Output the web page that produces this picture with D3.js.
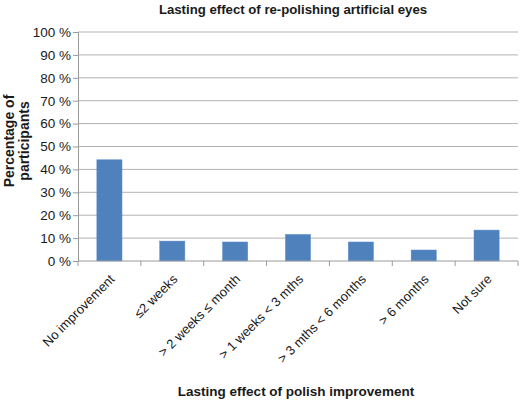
<!DOCTYPE html>
<html>
<head>
<meta charset="utf-8">
<script src="https://cdn.jsdelivr.net/npm/d3@7.9.0/dist/d3.min.js"></script>
<style>
  body { margin: 0; background: #fff; }
  text { font-family: "Liberation Sans", Arial, sans-serif; fill: #1a1a1a; }
</style>
</head>
<body>
<svg id="chart" width="520" height="400"></svg>
<script>
// values
const categories = ["No improvement", "\u22642 weeks", "> 2 weeks \u2264 month", "> 1 weeks < 3 mths",
                    "> 3 mths < 6 months", "> 6 months", "Not sure"];
const percents = [44.2, 8.7, 8.3, 11.6, 8.3, 4.8, 13.5];
const yTicks = [0, 10, 20, 30, 40, 50, 60, 70, 80, 90, 100];

const margin = { top: 32, right: 2, bottom: 139, left: 78 };
const width = 520, height = 400;

let svg = d3.select("#chart");

let x = d3.scaleBand()
    .domain(categories)
    .range([margin.left, width - margin.right]);

let y = d3.scaleLinear()
    .domain([0, 100])
    .range([height - margin.bottom, margin.top]);

// gridlines
svg.append("g")
    .selectAll("line")
    .data(yTicks.filter(d => d > 0))
    .enter()
    .append("line")
    .attr("x1", margin.left)
    .attr("x2", width - margin.right)
    .attr("y1", d => y(d))
    .attr("y2", d => y(d))
    .attr("stroke", "#b3b3b3")
    .attr("stroke-width", 1);

// bars
let barW = x.bandwidth() * 0.4;
svg.append("g")
    .selectAll("rect")
    .data(percents)
    .enter()
    .append("rect")
    .attr("x", (d, i) => x(categories[i]) + (x.bandwidth() - barW) / 2)
    .attr("y", d => y(d))
    .attr("width", barW)
    .attr("height", d => y(0) - y(d))
    .attr("fill", "#4f81bd")
    .attr("stroke", "#5b8ccc")
    .attr("stroke-width", 0.5);

// y axis
let yAxis = svg.append("g")
    .attr("transform", `translate(${margin.left},0)`)
    .call(d3.axisLeft(y).tickValues(yTicks).tickSize(5).tickFormat(d => d + " %"));
yAxis.select(".domain").attr("stroke", "#9a9a9a");
yAxis.selectAll(".tick line").attr("stroke", "#9a9a9a");
yAxis.selectAll(".tick text")
    .attr("x", -7)
    .style("font-size", "13.5px")
    .style("font-family", "Liberation Sans, Arial, sans-serif")
    .attr("fill", "#1a1a1a");

// x axis: ticks on category boundaries
let xAxisG = svg.append("g").attr("transform", `translate(0,${y(0)})`);
xAxisG.append("line")
    .attr("x1", margin.left)
    .attr("x2", width - margin.right)
    .attr("stroke", "#9a9a9a");
xAxisG.selectAll("line.tk")
    .data(d3.range(categories.length + 1))
    .enter()
    .append("line")
    .attr("class", "tk")
    .attr("x1", i => margin.left + i * x.step())
    .attr("x2", i => margin.left + i * x.step())
    .attr("y1", 0)
    .attr("y2", 5)
    .attr("stroke", "#9a9a9a");

xAxisG.selectAll("text")
    .data(categories)
    .enter()
    .append("text")
    .attr("transform", d => `translate(${x(d) + x.bandwidth() / 2 + 6},${19}) rotate(-45)`)
    .attr("text-anchor", "end")
    .style("font-size", "13px")
    .text(d => d);

// title
svg.append("text")
    .attr("x", 293)
    .attr("y", 14)
    .attr("text-anchor", "middle")
    .style("font-size", "13.2px")
    .style("font-weight", "bold")
    .text("Lasting effect of re-polishing artificial eyes");

// x axis title
svg.append("text")
    .attr("x", 296)
    .attr("y", 396)
    .attr("text-anchor", "middle")
    .style("font-size", "13.5px")
    .style("font-weight", "bold")
    .text("Lasting effect of polish improvement");

// y axis title (two lines)
let yTitle = svg.append("text")
    .attr("transform", "translate(14,141) rotate(-90)")
    .attr("text-anchor", "middle")
    .style("font-size", "14px")
    .style("font-weight", "bold");
yTitle.append("tspan").attr("x", 0).attr("dy", 0).text("Percentage of");
yTitle.append("tspan").attr("x", 0).attr("dy", 15).text("participants");
</script>
</body>
</html>
